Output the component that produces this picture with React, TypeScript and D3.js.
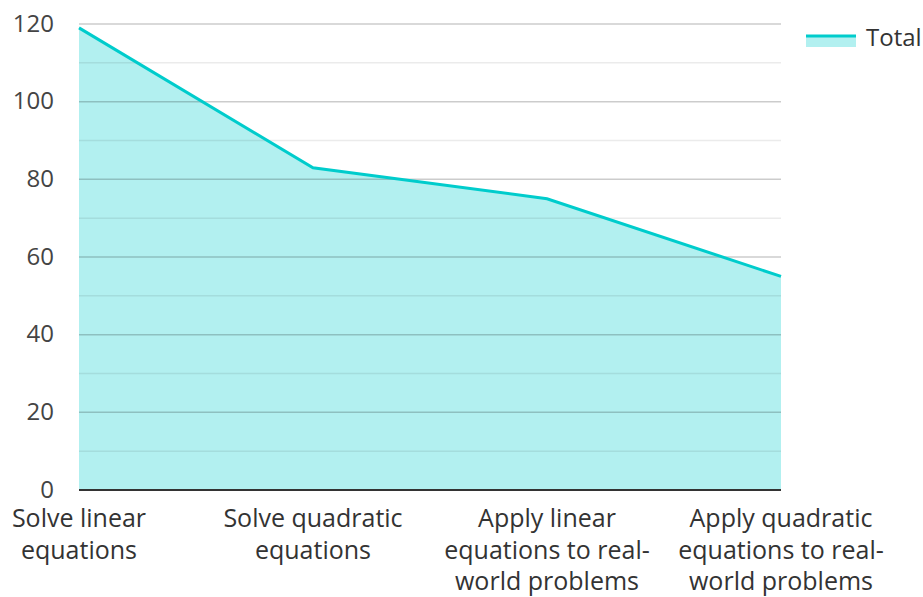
import React from "react";
import * as d3 from "d3";

const categories = [
  "Solve linear equations",
  "Solve quadratic equations",
  "Apply linear equations to real-world problems",
  "Apply quadratic equations to real-world problems",
];
const categoryLines = [
  ["Solve linear", "equations"],
  ["Solve quadratic", "equations"],
  ["Apply linear", "equations to real-", "world problems"],
  ["Apply quadratic", "equations to real-", "world problems"],
];
const totals = [119, 83, 75, 55];
const yTicks = [0, 20, 40, 60, 80, 100, 120];
const minorTicks = [10, 30, 50, 70, 90, 110];

const W = 923;
const H = 597;
const left = 79;
const right = 781;
const top = 24;
const bottom = 490;
const font = "'Open Sans', sans-serif";
const teal = "#00cccc";

const App = () => {
  const x = d3.scalePoint<string>().domain(categories).range([left, right]);
  const y = d3.scaleLinear().domain([0, 120]).range([bottom, top]);

  const data = categories.map((c, i) => ({ c, v: totals[i] }));

  const area = d3
    .area<{ c: string; v: number }>()
    .x((d) => x(d.c)!)
    .y0(y(0))
    .y1((d) => y(d.v));
  const line = d3
    .line<{ c: string; v: number }>()
    .x((d) => x(d.c)!)
    .y((d) => y(d.v));

  return (
    <svg width={W} height={H} style={{ position: "absolute", left: 0, top: 0 }}>
      <rect width={W} height={H} fill="#fff" />
      <path d={area(data)!} fill={teal} fillOpacity={0.3} />
      {/* gridlines drawn over the fill */}
      {minorTicks.map((t) => (
        <line key={"m" + t} x1={left} x2={right} y1={y(t)} y2={y(t)} stroke="#000" strokeOpacity={0.08} strokeWidth={1.5} />
      ))}
      {yTicks.slice(1).map((t) => (
        <line key={"g" + t} x1={left} x2={right} y1={y(t)} y2={y(t)} stroke="#000" strokeOpacity={0.2} strokeWidth={1.5} />
      ))}
      <path d={line(data)!} fill="none" stroke={teal} strokeWidth={3} />
      <line x1={left} x2={right} y1={y(0)} y2={y(0)} stroke="#333" strokeWidth={2} />
      {yTicks.map((t) => (
        <text
          key={"t" + t}
          x={54}
          y={y(t) - 2}
          textAnchor="end"
          dominantBaseline="central"
          fontFamily={font}
          fontSize={24}
          fill="#444"
        >
          {t}
        </text>
      ))}
      {categories.map((c, i) => (
        <text key={c} textAnchor="middle" fontFamily={font} fontSize={25} fill="#333">
          {categoryLines[i].map((l, j) => (
            <tspan key={j} x={x(c)} y={527 + j * 31.5}>
              {l}
            </tspan>
          ))}
        </text>
      ))}
      {/* legend */}
      <rect x={806} y={36} width={50} height={11} fill={teal} fillOpacity={0.3} />
      <line x1={806} x2={856} y1={36} y2={36} stroke={teal} strokeWidth={3} />
      <text x={866} y={36} dominantBaseline="central" fontFamily={font} fontSize={24} fill="#333">
        Total
      </text>
    </svg>
  );
};

export default App;
